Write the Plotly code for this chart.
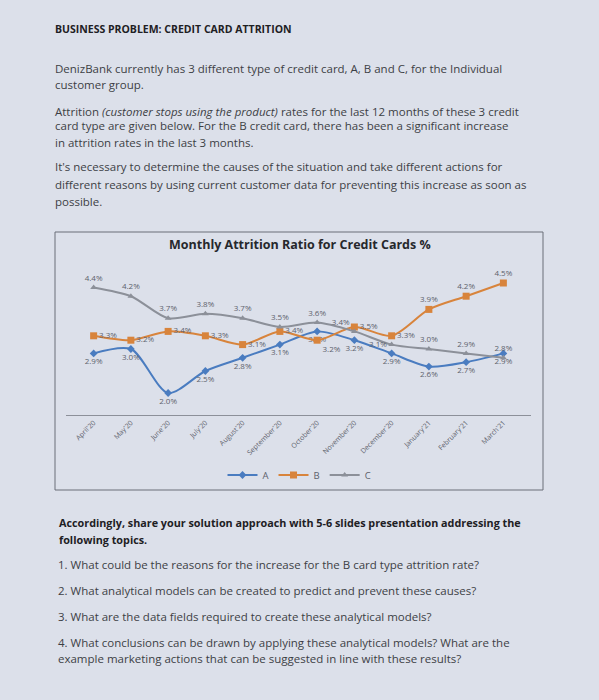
import plotly.graph_objects as go

months = ["April'20", "May'20", "June'20", "July'20", "August'20", "September'20",
          "October'20", "November'20", "December'20", "January'21", "February'21", "March'21"]
card_a = [2.9, 3.0, 2.0, 2.5, 2.8, 3.1, 3.4, 3.2, 2.9, 2.6, 2.7, 2.9]
card_b = [3.3, 3.2, 3.4, 3.3, 3.1, 3.4, 3.2, 3.5, 3.3, 3.9, 4.2, 4.5]
card_c = [4.4, 4.2, 3.7, 3.8, 3.7, 3.5, 3.6, 3.4, 3.1, 3.0, 2.9, 2.8]

W, H = 599, 700
BG = "#dce0ea"
TXT = "#3c3f45"
FONT = "Open Sans"

def px(y):
    return 1 - y / H

fig = go.Figure()

lbl_font = dict(family=FONT, size=8, color="#5d626c")

fig.add_trace(go.Scatter(
    x=months, y=card_a, name="A", mode="lines+markers+text",
    line=dict(color="#4a7cc0", width=2, shape="spline", smoothing=0.8),
    marker=dict(symbol="diamond", size=6, color="#4a7cc0"),
    text=[f"{v:.1f}%" for v in card_a], textposition="bottom center",
    textfont=lbl_font, cliponaxis=False))

b_pos = ["middle right"] * 6 + ["bottom right", "middle right", "middle right",
                                "top center", "top center", "top center"]
fig.add_trace(go.Scatter(
    x=months, y=card_b, name="B", mode="lines+markers+text",
    line=dict(color="#d8843c", width=2, shape="spline", smoothing=0.8),
    marker=dict(symbol="square", size=7, color="#d8843c"),
    text=[f"{v:.1f}%" for v in card_b], textposition=b_pos,
    textfont=lbl_font, cliponaxis=False))

c_pos = ["top center"] * 7 + ["top left", "middle left"] + ["top center"] * 3
fig.add_trace(go.Scatter(
    x=months, y=card_c, name="C", mode="lines+markers+text",
    line=dict(color="#8c9099", width=2, shape="spline", smoothing=0.8),
    marker=dict(symbol="triangle-up", size=6, color="#8c9099"),
    text=[f"{v:.1f}%" for v in card_c], textposition=c_pos,
    textfont=lbl_font, cliponaxis=False))

fig.update_layout(
    width=W, height=H,
    margin=dict(l=0, r=0, t=0, b=0),
    paper_bgcolor=BG, plot_bgcolor=BG,
    showlegend=True,
    legend=dict(orientation="h", x=0.5, xanchor="center", y=px(475), yanchor="middle",
                font=dict(family=FONT, size=9.5, color="#5d626c"), bgcolor="rgba(0,0,0,0)",
                itemwidth=30, tracegroupgap=0),
    xaxis=dict(domain=[66 / W, 531 / W], showgrid=False, zeroline=False,
               showline=True, linecolor="#8c9099", linewidth=1,
               tickangle=-45, tickfont=dict(family=FONT, size=7, color="#5d626c"),
               ticks=""),
    yaxis=dict(domain=[px(415), px(261)], range=[1.5, 5.0], visible=False),
    shapes=[dict(type="rect", xref="paper", yref="paper",
                 x0=55 / W, x1=543 / W, y0=px(490), y1=px(232),
                 line=dict(color="#6b6f78", width=1))],
)

ann = []
def text(x, y, s, size=11.5, bold=False, color=TXT):
    ann.append(dict(x=x / W, y=px(y), xref="paper", yref="paper", xanchor="left",
                    yanchor="middle", showarrow=False,
                    text=f"<b>{s}</b>" if bold else s,
                    font=dict(family=FONT, size=size, color=color)))

text(53, 29, "BUSINESS PROBLEM: CREDIT CARD ATTRITION", 10.5, True, "#1e2024")
text(53, 68, "DenizBank currently has 3 different type of credit card, A, B and C, for the Individual")
text(53, 84, "customer group.")
text(53, 111, "Attrition <i>(customer stops using the product)</i> rates for the last 12 months of these 3 credit")
text(53, 126, "card type are given below. For the B credit card, there has been a significant increase")
text(53, 142, "in attrition rates in the last 3 months.")
text(53, 167, "It's necessary to determine the causes of the situation and take different actions for")
text(53, 184, "different reasons by using current customer data for preventing this increase as soon as")
text(53, 201, "possible.")

ann.append(dict(x=300 / W, y=px(245), xref="paper", yref="paper", xanchor="center",
                yanchor="middle", showarrow=False,
                text="<b>Monthly Attrition Ratio for Credit Cards %</b>",
                font=dict(family=FONT, size=12.5, color="#26282c")))

text(57, 522, "Accordingly, share your solution approach with 5-6 slides presentation addressing the", 10.8, True, "#1e2024")
text(57, 539, "following topics.", 10.8, True, "#1e2024")
text(56, 564, "1. What could be the reasons for the increase for the B card type attrition rate?")
text(56, 590, "2. What analytical models can be created to predict and prevent these causes?")
text(56, 616, "3. What are the data fields required to create these analytical models?")
text(56, 642, "4. What conclusions can be drawn by applying these analytical models? What are the")
text(56, 658, "example marketing actions that can be suggested in line with these results?")

fig.update_layout(annotations=ann)
fig.write_html("out.html", config={"displayModeBar": False},
               post_script="document.body.style.margin='0';document.body.style.background='%s';" % BG)
